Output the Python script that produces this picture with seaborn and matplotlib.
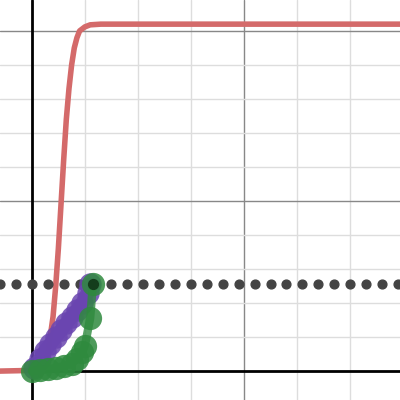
import numpy as np
import matplotlib.pyplot as plt
import seaborn as sns

sns.set_style("white")

# red curve (x, y)
red_x = [-0.6, 0.0, 0.2, 0.3, 0.4, 0.45, 0.5, 0.55, 0.6, 0.65, 0.7, 0.75, 0.8, 0.85, 0.9, 1.0, 1.1, 1.3, 1.6, 3.0, 7.0]
red_y = [0.0, 0.02, 0.1, 0.5, 1.6, 2.5, 3.6, 4.9, 6.2, 7.4, 8.3, 9.0, 9.5, 9.8, 10.0, 10.12, 10.18, 10.2, 10.2, 10.2, 10.2]

# dotted horizontal line
dot_x = np.arange(-0.6, 7.0, 0.3)
dot_y = [2.56] * len(dot_x)

# purple points
pur_x = [0.05, 0.15, 0.25, 0.35, 0.45, 0.55, 0.65, 0.75, 0.85, 0.95, 1.05, 1.1]
pur_y = [0.1, 0.35, 0.6, 0.8, 1.0, 1.2, 1.4, 1.6, 1.8, 2.0, 2.3, 2.55]

# green points
grn_x = [0.0, 0.15, 0.3, 0.45, 0.6, 0.75, 0.85, 0.95, 1.0, 1.1, 1.15]
grn_y = [0.0, 0.02, 0.05, 0.1, 0.15, 0.22, 0.35, 0.55, 0.75, 1.55, 2.55]

fig, ax = plt.subplots(figsize=(4, 4), dpi=100)
fig.subplots_adjust(0, 0, 1, 1)

for v in np.arange(1, 7):
    ax.axvline(v, color='#888888' if v == 4 else '#dddddd', lw=1, zorder=0)
for v in np.arange(1, 11):
    ax.axhline(v, color='#888888' if v in (5, 10) else '#dddddd', lw=1, zorder=0)
ax.axhline(0, color='black', lw=2, zorder=1)
ax.axvline(0, color='black', lw=2, zorder=1)

sns.lineplot(x=red_x, y=red_y, color='#d46a6a', lw=4, sort=False, ax=ax, zorder=2)
ax.scatter(dot_x, dot_y, s=40, color='#444444', zorder=3)
sns.lineplot(x=pur_x, y=pur_y, color='#6a45b0', lw=10, alpha=0.85, sort=False, ax=ax, zorder=4)
ax.scatter(pur_x, pur_y, s=260, color='#6a45b0', alpha=0.85, lw=0, zorder=4)
sns.lineplot(x=grn_x, y=grn_y, color='#2f8a3e', lw=6, alpha=0.8, sort=False, ax=ax, zorder=5)
ax.scatter(grn_x, grn_y, s=280, color='#2f8a3e', alpha=0.85, lw=0, zorder=5)
ax.scatter([grn_x[-1]], [grn_y[-1]], s=50, color='#143d1c', zorder=6)

ax.set_xlim(-0.6, 6.94)
ax.set_ylim(-0.85, 10.91)
ax.set_xticks([])
ax.set_yticks([])
for s in ax.spines.values():
    s.set_visible(False)

fig.savefig('out.png', dpi=100)
